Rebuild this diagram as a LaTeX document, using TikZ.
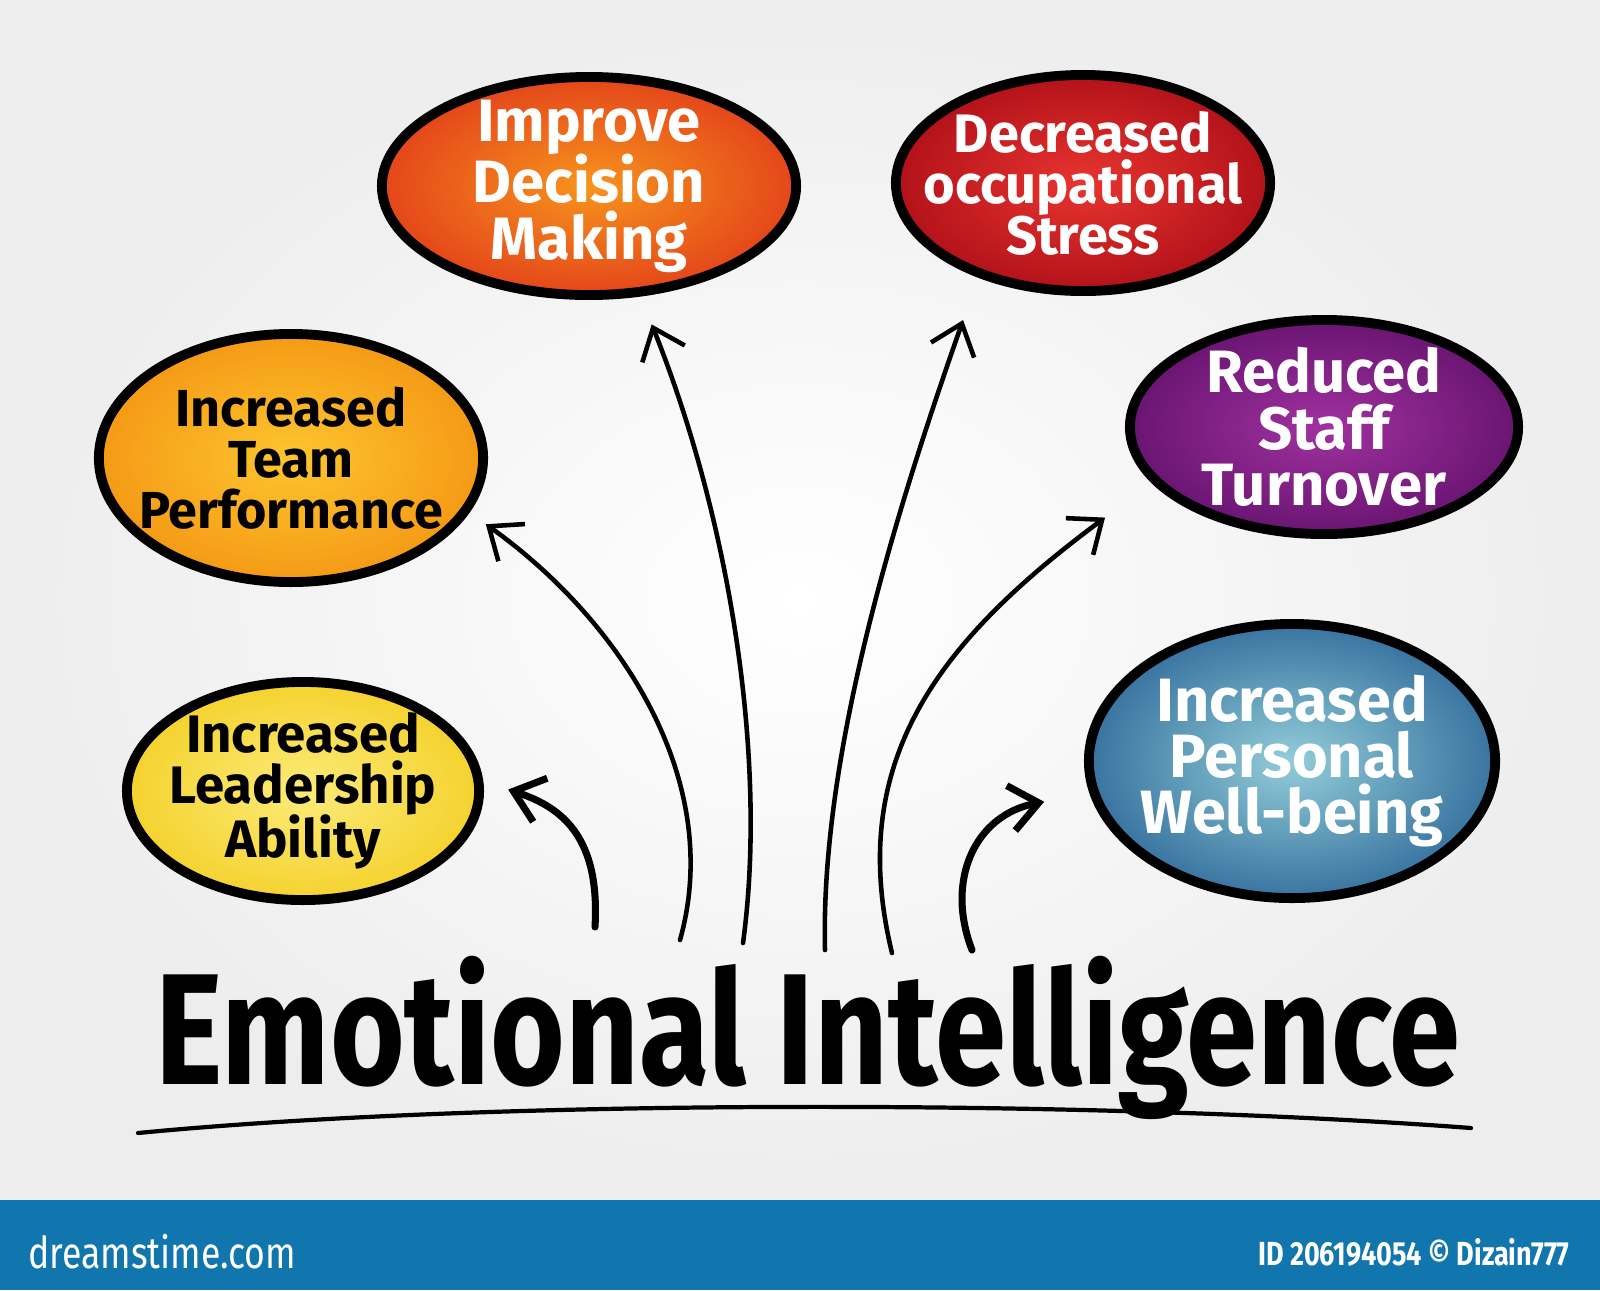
\documentclass[tikz,border=0pt]{standalone}
\usepackage{fontspec}
\setmainfont{Fira Sans}
\newfontfamily\handfont{Fira Sans}
\newfontfamily\titlefont[FakeStretch=0.81]{Fira Sans}
\usetikzlibrary{shapes.geometric,arrows.meta}
\newcommand\tightlines{\lineskip0pt\relax}

\definecolor{barblue}{HTML}{1176AE}
\definecolor{leadin}{HTML}{FCEB7A}
\definecolor{leadout}{HTML}{F4D22E}
\definecolor{teamin}{HTML}{FDC52E}
\definecolor{teamout}{HTML}{F59A16}
\definecolor{imprin}{HTML}{F7941D}
\definecolor{improut}{HTML}{E4461A}
\definecolor{decrin}{HTML}{E8352F}
\definecolor{decrout}{HTML}{B3121A}
\definecolor{reduin}{HTML}{A0329F}
\definecolor{reduout}{HTML}{6A1572}
\definecolor{persin}{HTML}{93CDD9}
\definecolor{persout}{HTML}{3874A0}

\tikzset{
  bubble/.style 2 args={ellipse, draw=black, line width=2.8pt, inner sep=-0.5cm, align=center,
    font=\handfont\bfseries\fontsize{#1}{#2}\selectfont\tightlines},
  pointer/.style={line width=1.3pt, line cap=round, -{Straight Barb[length=8pt,width=13pt]}},
}

\begin{document}
\begin{tikzpicture}[x=0.01cm, y=-0.01cm]
  \useasboundingbox (0,0) rectangle (1600,1290);
  % background and footer bar
  \shade[inner color=white, outer color=black!7] (0,0) rectangle (1600,1200);
  \fill[barblue] (0,1200) rectangle (1600,1290);

  % Define the bubbles
  \node[bubble={15}{14.5}, minimum width=3.52cm, minimum height=2.18cm, inner color=leadin, outer color=leadout] (lead) at (303,791) {Increased\\Leadership\\Ability};
  \node[bubble={14.8}{14.5}, minimum width=3.84cm, minimum height=2.48cm, inner color=teamin, outer color=teamout] (team) at (291,458) {Increased\\Team\\Performance};
  \node[bubble={17}{16}, minimum width=4.14cm, minimum height=2.18cm, inner color=imprin, outer color=improut, text=white] (impr) at (589,186) {Improve\\Decision\\Making};
  \node[bubble={15.4}{14.5}, minimum width=3.74cm, minimum height=2.16cm, inner color=decrin, outer color=decrout, text=white] (decr) at (1083,183) {Decreased\\occupational\\Stress};
  \node[bubble={17}{16}, minimum width=3.88cm, minimum height=2.14cm, inner color=reduin, outer color=reduout, text=white] (redu) at (1324,427) {Reduced\\Staff\\Turnover};
  \node[bubble={17.4}{16}, minimum width=4.06cm, minimum height=2.74cm, inner color=persin, outer color=persout, text=white] (pers) at (1292,761) {Increased\\Personal\\Well-being};

  % title and its underline
  \node[font=\titlefont\bfseries\fontsize{45}{45}\selectfont, anchor=base, inner sep=0pt] (title) at (808,1084) {Emotional Intelligence};
  \draw[line width=1.2pt, line cap=round] (138,1133) .. controls (500,1098) and (1100,1100) .. (1471,1128);

  % where the arrows leave the title
  \coordinate (s1) at (595,927);
  \coordinate (s2) at (680,940);
  \coordinate (s3) at (743,943);
  \coordinate (s4) at (825,950);
  \coordinate (s5) at (892,953);
  \coordinate (s6) at (972,950);

  % arrows
  \draw[pointer, line width=2pt, shorten >=0.26cm] (s1) .. controls (600,840) and (565,808) .. (lead.3);
  \draw[pointer, shorten >=0.2cm] (s2) .. controls (725,780) and (620,620) .. (team.-17);
  \draw[pointer, shorten >=0.3cm] (s3) .. controls (768,760) and (730,520) .. (impr.-65);
  \draw[pointer, shorten >=0.45cm] (s4) .. controls (820,750) and (900,500) .. (decr.-138);
  \draw[pointer, shorten >=0.58cm] (s5) .. controls (845,760) and (940,640) .. (redu.-162);
  \draw[pointer, line width=2pt, shorten >=0.46cm] (s6) .. controls (945,880) and (975,815) .. (pers.-171);

  % footer texts
  \node[anchor=west, text=white, font=\titlefont\fontsize{12.5}{12.5}\selectfont] (site) at (16,1252) {dreamstime.com};
  \node[anchor=east, text=white, font=\titlefont\bfseries\fontsize{9.5}{9.5}\selectfont] (credit) at (1582,1252) {ID 206194054 \textcopyright{} Dizain777};
\end{tikzpicture}
\end{document}
